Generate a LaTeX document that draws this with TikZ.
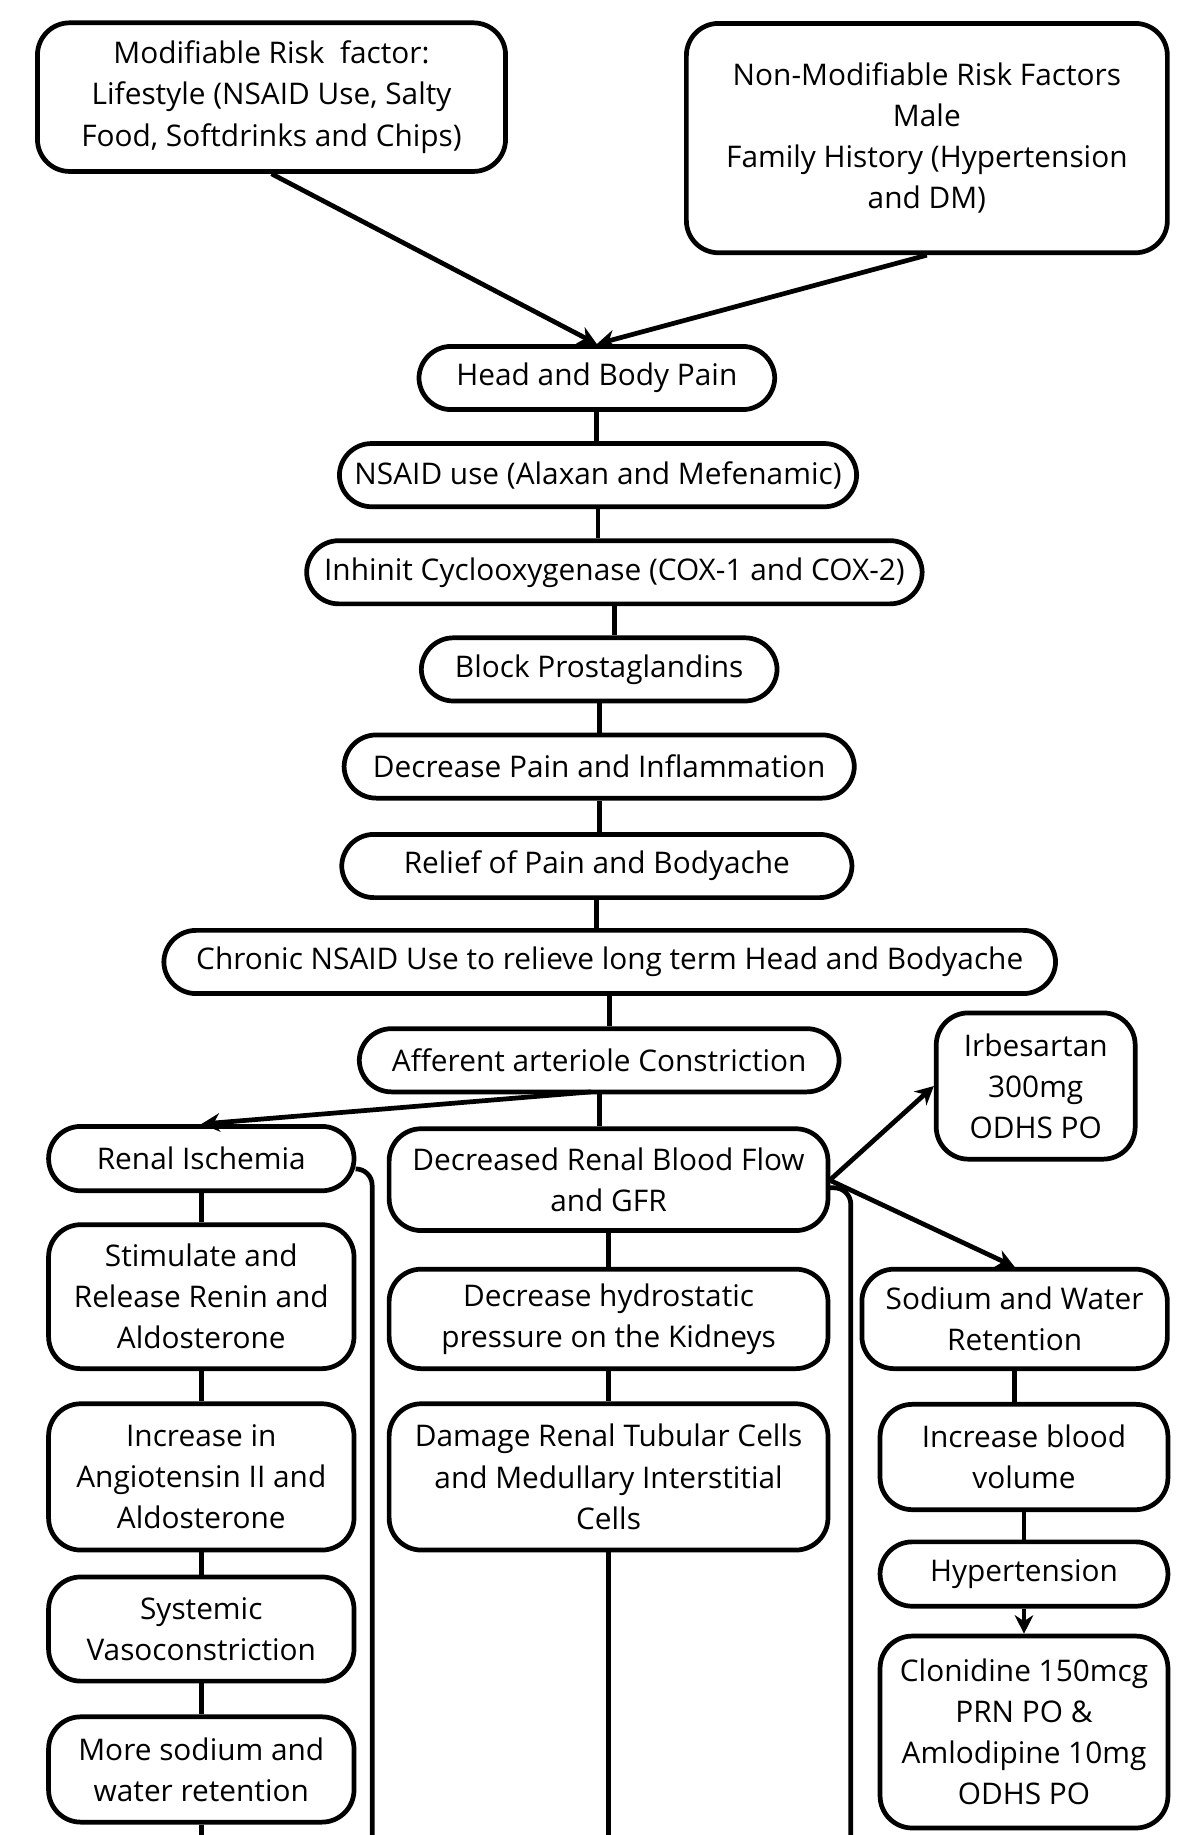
\documentclass[tikz,border=0pt]{standalone}
\usepackage{fontspec}
\setmainfont{Open Sans}
\usetikzlibrary{arrows.meta}
\begin{document}
\begin{tikzpicture}[x=0.02cm,y=-0.02cm,
 box/.style={draw,line width=2.3pt,rounded corners=0.55cm,align=center,inner sep=0pt,font=\fontsize{14.5}{20}\selectfont},
 ln/.style={line width=2.3pt},
 ar/.style={line width=2.3pt,-{Stealth[length=9pt,width=9pt]}}]
\useasboundingbox (0,0) rectangle (1024,1568);
\newcommand{\bx}[6]{\node[box,minimum width=#4*0.02cm,minimum height=#5*0.02cm] (#1) at (#2,#3) {#6};}
\bx{mod}{232}{83}{400}{127}{Modifiable Risk\ \ factor:\\Lifestyle (NSAID Use, Salty\\Food, Softdrinks and Chips)}
\bx{non}{792}{118}{411}{196}{Non-Modifiable Risk Factors\\Male\\Family History (Hypertension\\and DM)}
\bx{head}{510}{323}{304}{54}{Head and Body Pain}
\bx{nsaid}{511}{406}{442}{54}{NSAID use (Alaxan and Mefenamic)}
\bx{inh}{525}{489}{526}{54}{Inhinit Cyclooxygenase (COX-1 and COX-2)}
\bx{block}{512}{572}{304}{54}{Block Prostaglandins}
\bx{dec}{512}{655}{436}{54}{Decrease Pain and Inflammation}
\bx{rel}{510}{740}{436}{54}{Relief of Pain and Bodyache}
\bx{chr}{521}{822}{762}{54}{Chronic NSAID Use to relieve long term Head and Bodyache}
\bx{aff}{512}{906}{410}{54}{Afferent arteriole Constriction}
\bx{irb}{885}{928}{170}{125}{Irbesartan\\300mg\\ODHS PO}
\bx{ri}{172}{990}{261}{55}{Renal Ischemia}
\bx{rbf}{520}{1008}{375}{87}{Decreased Renal Blood Flow\\and GFR}
\bx{sti}{172}{1108}{261}{123}{Stimulate and\\Release Renin and\\Aldosterone}
\bx{ang}{172}{1262}{261}{125}{Increase in\\Angiotensin II and\\Aldosterone}
\bx{sys}{172}{1392}{261}{89}{Systemic\\Vasoconstriction}
\bx{more}{172}{1512}{261}{90}{More sodium and\\water retention}
\bx{hyd}{520}{1127}{375}{85}{Decrease hydrostatic\\pressure on the Kidneys}
\bx{dam}{520}{1262}{375}{125}{Damage Renal Tubular Cells\\and Medullary Interstitial\\Cells}
\bx{sw}{867}{1127}{261}{85}{Sodium and Water\\Retention}
\bx{ibv}{875}{1245}{246}{90}{Increase blood\\volume}
\bx{hyp}{875}{1345}{246}{55}{Hypertension}
\bx{clo}{875}{1480}{246}{164}{Clonidine 150mcg\\PRN PO \&\\Amlodipine 10mg\\ODHS PO}
\draw[ar] (mod.south) -- (head.north);
\draw[ar] (non.south) -- (head.north);
\foreach \a/\b in {head/nsaid,nsaid/inh,inh/block,block/dec,dec/rel,rel/chr,chr/aff,aff/rbf,ri/sti,sti/ang,ang/sys,sys/more,rbf/hyd,hyd/dam,sw/ibv,ibv/hyp}
  \draw[ln] (\a.south) -- (\a.south|-\b.north);
\coordinate (c1) at (505,933);
\draw[ar] (c1) -- (ri.north);
\draw[ar] (rbf.east) -- (irb.west);
\coordinate (c2) at (708,1008);
\draw[ar] (c2) -- (sw.north);
\draw[ar] (hyp.south) -- (clo.north);
\coordinate (b1) at (318,1568);
\coordinate (b2) at (727,1568);
\coordinate (b3) at (172,1568);
\coordinate (b4) at (511,1568);
\draw[ln,rounded corners=8pt] (ri.east) ++(0,-5pt) -| (b1);
\draw[ln,rounded corners=8pt] (708,1015) -| (b2);
\draw[ln] (more.south) -- (b3);
\draw[ln] (dam.south) -- (dam.south|-b4);
\end{tikzpicture}
\end{document}
